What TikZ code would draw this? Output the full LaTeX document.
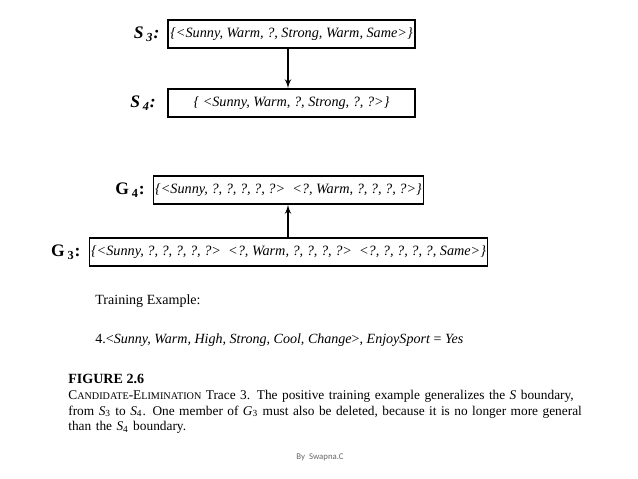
\documentclass[tikz,border=0pt]{standalone}
\usepackage{fontspec}
\setmainfont{Liberation Serif}
\setsansfont{Carlito}
\usetikzlibrary{arrows,positioning}
\newcommand{\fsc}[2]{#1{\fontsize{5.8}{7}\selectfont #2}}
\newcommand{\sub}[2]{\textit{#1}\textsubscript{#2}}
\tikzstyle{line} = [draw, -latex', thick]
\tikzstyle{hyp} = [rectangle, draw, thick, inner sep=1pt, minimum height=0.56cm, font=\fontsize{8.1}{9}\selectfont\itshape]
\tikzstyle{lab} = [font=\fontsize{10}{10}\selectfont\bfseries, anchor=east]
\tikzstyle{txt} = [anchor=west, inner sep=0pt, font=\fontsize{8}{9.4}\selectfont, align=left]
\begin{document}
\begin{tikzpicture}[x=0.02cm, y=-0.02cm]
	\useasboundingbox (0,0) rectangle (638,478);
	
	\node [hyp, minimum width=4.94cm] (s3) at (291.5,34) {\{<Sunny, Warm, ?, Strong, Warm, Same>\}};
	\node [hyp, minimum width=4.94cm] (s4) at (291.5,103) {\{ <Sunny, Warm, ?, Strong, ?, ?>\}};
	\node [hyp, minimum width=5.34cm] (g4) at (288.5,190) {\{<Sunny, ?, ?, ?, ?, ?> \ <?, Warm, ?, ?, ?, ?>\}};
	\node [hyp, minimum width=7.74cm] (g3) at (288.5,252) {\{<Sunny, ?, ?, ?, ?, ?> \ <?, Warm, ?, ?, ?, ?> \ <?, ?, ?, ?, ?, Same>\}};
	
	\node [lab, left=1pt of s3] {\itshape S\,\textsubscript{3}:};
	\node [lab, left=3pt of s4] {\itshape S\,\textsubscript{4}:};
	\node [lab, left=1pt of g4] {G\,\textsubscript{4}:};
	\node [lab, left=1pt of g3] {G\,\textsubscript{3}:};
	
	\path [line] (s3.south -| 288,0) -- (s4.north -| 288,0);
	\path [line] (g3.north -| 288,0) -- (g4.south -| 288,0);
	
	\node [txt] (te) at (95,301) {Training Example:};
	\node [txt] (ex) at (95,340) {4.<\textit{Sunny, Warm, High, Strong, Cool, Change}>, \textit{EnjoySport} = \textit{Yes}};
	\node [txt, font=\fontsize{8}{9.4}\selectfont\bfseries] (fig) at (68,379) {FIGURE 2.6};
	\node [txt, anchor=north west, text width=10.7cm, font=\fontsize{7.6}{8.8}\selectfont] (cap) at (68,390) {\fsc{C}{ANDIDATE}-\fsc{E}{LIMINATION} Trace 3. The positive training example generalizes the \textit{S} boundary, from \sub{S}{3} to \sub{S}{4}. One member of \sub{G}{3} must also be deleted, because it is no longer more general than the \sub{S}{4} boundary.};
	\node [font=\sffamily\fontsize{5}{6}\selectfont, text=black!60] (by) at (320,457) {By \ Swapna.C};
\end{tikzpicture}
\end{document}
